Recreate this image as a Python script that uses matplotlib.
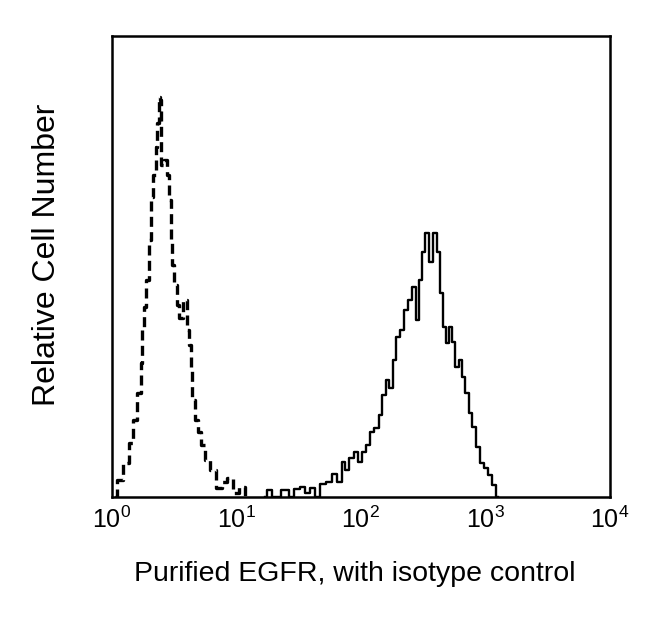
import numpy as np
import matplotlib.pyplot as plt

plt.rcParams['font.family'] = ['Liberation Sans', 'DejaVu Sans']

# isotype control (dashed)
iso_x = [1.06, 1.16, 1.32, 1.45, 1.53, 1.68, 1.74, 1.77, 1.84, 1.95, 2.02, 2.10,
         2.21, 2.30, 2.34, 2.43, 2.48, 2.52, 2.72, 2.87, 2.92, 3.03, 3.09, 3.27,
         3.39, 3.52, 3.93, 4.08, 4.23, 4.39, 4.47, 4.82, 5.09, 5.38, 5.90, 6.36,
         7.37, 7.94, 8.87, 9.91, 11.3, 12.4]
iso_y = [0, 3.7, 7.4, 11.7, 16.7, 22.6, 29.1, 36.9, 41.2, 47.1, 55.7, 65.1,
         69.8, 75.9, 81.1, 86.8, 86.1, 72.0, 73.1, 69.8, 64.4, 55.7, 50.3, 46.0,
         41.6, 38.8, 42.7, 36.2, 33.0, 27.5, 21.0, 16.7, 14.1, 11.3, 8.0, 5.9,
         2.0, 3.3, 4.1, 0.9, 2.2, 0]

# purified EGFR (solid)
egfr_x = [16.9, 18.6, 20.0, 25.4, 27.9, 30.6, 34.2, 37.5, 40.4, 45.2, 49.5, 55.3,
          61.8, 67.8, 73.0, 77.2, 84.7, 91.2, 98.2, 106, 114, 123, 134, 145,
          153, 165, 174, 188, 198, 213, 230, 248, 267, 287, 303, 321, 339, 365,
          393, 423, 448, 473, 500, 528, 559, 590, 635, 672, 710, 765, 809, 871,
          937, 1009, 1087, 1170, 1260]
egfr_y = [0, 1.5, 0, 1.5, 0, 1.7, 2.2, 0.9, 2.0, 0, 2.8, 3.3,
          5.0, 3.3, 7.6, 5.9, 8.5, 9.8, 7.6, 9.8, 11.3, 14.1, 15.0, 17.8,
          22.1, 25.4, 23.6, 29.7, 34.7, 36.2, 40.6, 42.7, 45.6, 38.4, 47.1, 53.1, 57.3, 51.0,
          57.3, 53.1, 44.3, 36.9, 33.4, 36.9, 33.6, 28.2, 29.7, 26.0, 22.6, 18.2, 15.2, 10.8,
          7.4, 6.3, 4.8, 2.6, 0]

decades = [1, 10, 100, 1000, 10000]
tick_labels = [r'$\mathregular{10^{%d}}$' % i for i in range(5)]

fig = plt.figure(figsize=(6.5, 6.22), dpi=100)
ax = fig.add_axes([0.172, 0.201, 0.766, 0.741])

ax.plot(iso_x, iso_y, color='black', lw=2.4, ls=(0, (3, 1.6)), drawstyle='steps-mid')
ax.plot(egfr_x, egfr_y, color='black', lw=1.7, drawstyle='steps-mid')

ax.set_xscale('log')
ax.set_xlim(1, 10000)
ax.set_ylim(0, 100)
ax.set_xticks(decades)
ax.set_xticklabels(tick_labels, fontsize=18)
ax.minorticks_off()
ax.set_yticks([])
ax.tick_params(axis='x', length=0, pad=7)
for s in ax.spines.values():
    s.set_linewidth(1.8)

ax.set_xlabel('Purified EGFR, with isotype control', fontsize=20.5, labelpad=20, x=0.488)
ax.set_ylabel('Relative Cell Number', fontsize=23, labelpad=36, y=0.525)

fig.savefig('out.png', dpi=100)
